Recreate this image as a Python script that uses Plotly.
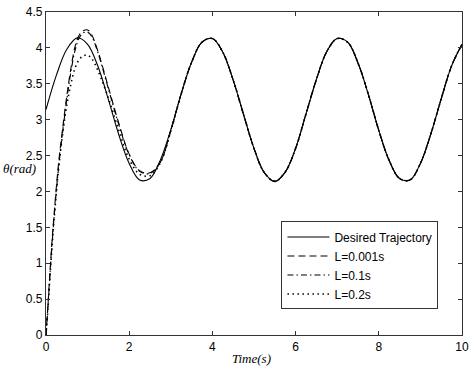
import plotly.graph_objects as go

# Desired trajectory
t_des = [0, 0.25, 0.5, 0.75, 1.0, 1.25, 1.5, 1.75, 2.0, 2.25, 2.5, 2.75, 3.0, 3.25, 3.5, 3.75,
         4.0, 4.25, 4.5, 4.75, 5.0, 5.25, 5.5, 5.75, 6.0, 6.25, 6.5, 6.75, 7.0, 7.25, 7.5, 7.75,
         8.0, 8.25, 8.5, 8.75, 9.0, 9.25, 9.5, 9.75, 10.0]
y_des = [3.14, 3.62, 3.98, 4.14, 4.05, 3.74, 3.28, 2.79, 2.39, 2.16, 2.18, 2.44, 2.86, 3.36, 3.80, 4.08,
         4.13, 3.94, 3.55, 3.07, 2.60, 2.26, 2.14, 2.27, 2.60, 3.08, 3.56, 3.95, 4.13, 4.08, 3.79, 3.35,
         2.85, 2.43, 2.18, 2.16, 2.39, 2.80, 3.29, 3.75, 4.05]

# Responses
t_resp = [0, 0.05, 0.1, 0.15, 0.2, 0.3, 0.4, 0.5, 0.6, 0.7, 0.8, 0.9, 1.0, 1.1, 1.25, 1.5, 1.75,
          2.0, 2.25, 2.5, 2.75, 3.0, 3.25, 3.5, 3.75, 4.0, 4.25, 4.5, 4.75, 5.0, 5.25, 5.5, 5.75,
          6.0, 6.25, 6.5, 6.75, 7.0, 7.25, 7.5, 7.75, 8.0, 8.25, 8.5, 8.75, 9.0, 9.25, 9.5, 9.75, 10.0]
y_L0001 = [0, 0.45, 0.92, 1.35, 1.72, 2.38, 2.88, 3.33, 3.72, 4.02, 4.18, 4.24, 4.25, 4.18, 3.95, 3.45, 2.95,
           2.52, 2.29, 2.26, 2.41, 2.85, 3.36, 3.80, 4.08, 4.13, 3.94, 3.55, 3.07, 2.60, 2.26, 2.14, 2.27,
           2.60, 3.08, 3.56, 3.95, 4.13, 4.08, 3.79, 3.35, 2.85, 2.43, 2.18, 2.16, 2.39, 2.80, 3.29, 3.75, 4.05]
y_L01 = [0, 0.42, 0.88, 1.30, 1.68, 2.32, 2.83, 3.28, 3.67, 3.97, 4.14, 4.21, 4.22, 4.16, 3.93, 3.43, 2.93,
         2.51, 2.28, 2.25, 2.41, 2.85, 3.36, 3.80, 4.08, 4.13, 3.94, 3.55, 3.07, 2.60, 2.26, 2.14, 2.27,
         2.60, 3.08, 3.56, 3.95, 4.13, 4.08, 3.79, 3.35, 2.85, 2.43, 2.18, 2.16, 2.39, 2.80, 3.29, 3.75, 4.05]
y_L02 = [0, 0.40, 0.85, 1.27, 1.65, 2.30, 2.80, 3.20, 3.50, 3.72, 3.84, 3.89, 3.90, 3.85, 3.68, 3.30, 2.85,
         2.45, 2.24, 2.22, 2.40, 2.84, 3.36, 3.80, 4.08, 4.13, 3.94, 3.55, 3.07, 2.60, 2.26, 2.14, 2.27,
         2.60, 3.08, 3.56, 3.95, 4.13, 4.08, 3.79, 3.35, 2.85, 2.43, 2.18, 2.16, 2.39, 2.80, 3.29, 3.75, 4.05]

names = ["Desired Trajectory", "L=0.001s", "L=0.1s", "L=0.2s"]
x_ticks = [0, 2, 4, 6, 8, 10]
y_ticks = [0, 0.5, 1, 1.5, 2, 2.5, 3, 3.5, 4, 4.5]

fig = go.Figure()
series = [(t_des, y_des, "solid", 1.1),
          (t_resp, y_L0001, "7px,4px", 1.1),
          (t_resp, y_L01, "6px,3px,1.5px,3px", 1.1),
          (t_resp, y_L02, "1.5px,3.5px", 1.6)]
for (tx, ty, dash, w), nm in zip(series, names):
    fig.add_trace(go.Scatter(x=tx, y=ty, mode="lines", name=nm,
                             line=dict(color="black", width=w, dash=dash, shape="spline", smoothing=1.0)))

axis_common = dict(showgrid=False, zeroline=False, showline=True, linecolor="#333333", linewidth=1.3,
                   mirror="ticks", ticks="inside", ticklen=4, tickcolor="#333333",
                   ticklabeloverflow="allow",
                   tickfont=dict(family="Liberation Sans, Arial", size=12, color="black"))
fig.update_xaxes(range=[0, 10], tickvals=x_ticks, ticktext=[str(v) for v in x_ticks], **axis_common)
fig.update_yaxes(range=[0, 4.5], tickvals=y_ticks, ticktext=[("%g" % v) for v in y_ticks], **axis_common)

fig.update_layout(
    width=474, height=370,
    margin=dict(l=46, r=7, t=5, b=35),
    paper_bgcolor="white", plot_bgcolor="white",
    showlegend=True,
    legend=dict(x=0.566, y=0.079, xanchor="left", yanchor="bottom",
                bgcolor="white", bordercolor="#333333", borderwidth=1,
                font=dict(family="Liberation Sans, Arial", size=12, color="black"),
                tracegroupgap=0, itemwidth=42),
    annotations=[
        dict(text="<i>θ(rad)</i>", xref="paper", yref="paper", x=-0.109, y=0.515,
             xanchor="left", yanchor="middle", showarrow=False,
             font=dict(family="Liberation Serif", size=13, color="black")),
        dict(text="<i>Time(s)</i>", xref="paper", yref="paper", x=0.494, y=-0.073,
             xanchor="center", yanchor="middle", showarrow=False,
             font=dict(family="Liberation Serif", size=13, color="black")),
    ],
)
fig.write_html("out.html", config={"displayModeBar": False},
               post_script="document.body.style.margin='0';")
